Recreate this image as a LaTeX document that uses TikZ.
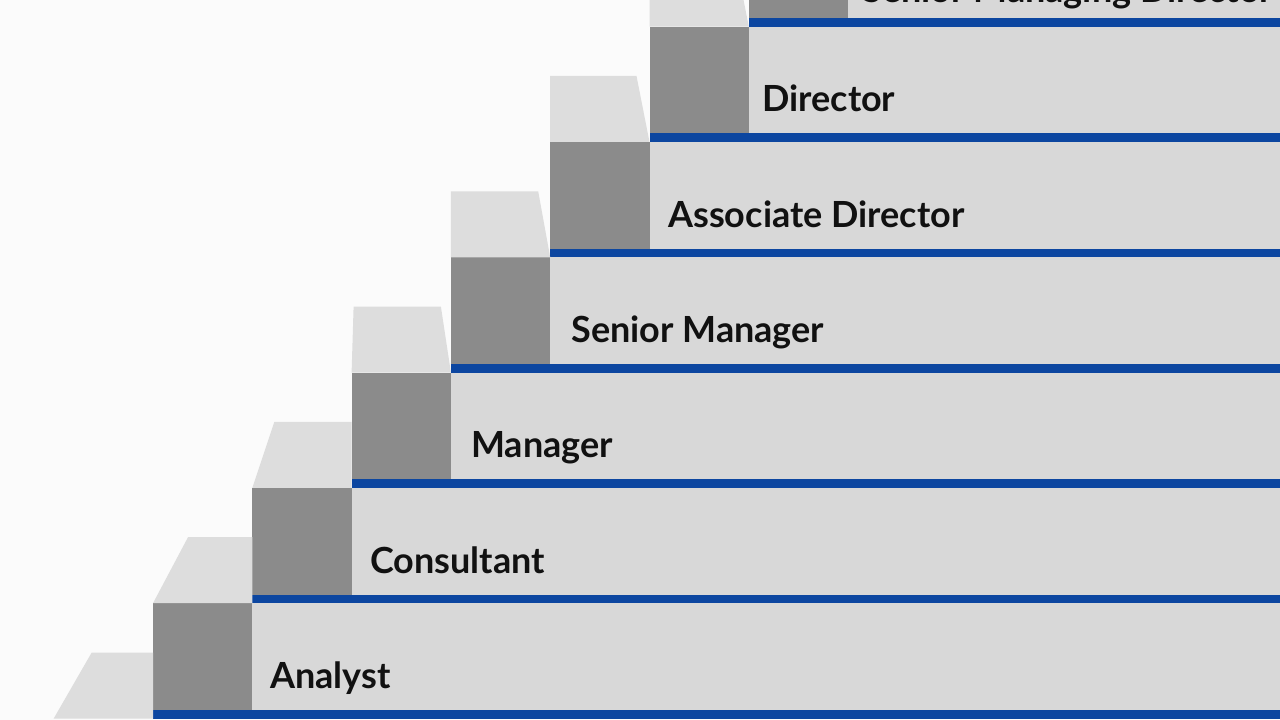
\documentclass[tikz,border=0pt]{standalone}
\usepackage{fontspec}
\setmainfont{Lato}
\definecolor{bgc}{HTML}{FBFBFB}
\definecolor{bandc}{HTML}{D8D8D8}
\definecolor{facec}{HTML}{DDDDDD}
\definecolor{riserc}{HTML}{8B8B8B}
\definecolor{bluec}{RGB}{12,70,160}
\definecolor{textc}{HTML}{111111}
\tikzset{
  band/.style={fill=bandc},
  riser/.style={fill=riserc},
  blueline/.style={fill=bluec},
  face/.style={fill=facec},
  label/.style={anchor=base west, inner sep=0pt, text=textc, font=\fontsize{27}{30}\selectfont\bfseries}
}
\begin{document}
\begin{tikzpicture}[x=0.75pt,y=-0.75pt]
\useasboundingbox (0,0) rectangle (1280,720);
\clip (0,0) rectangle (1280,720);
\fill[bgc] (0,0) rectangle (1280,720);
% bands, risers, blue lines
\foreach \k in {0,...,6} {
  \pgfmathsetmacro\xl{153+99.3*\k}
  \pgfmathsetmacro\xr{\xl+99.3}
  \pgfmathsetmacro\yb{718.5-115.3*\k}
  \pgfmathsetmacro\yt{\yb-115.3}
  \fill[band] (\xr,\yt) rectangle (1280,\yb-8);
  \fill[riser] (\xl,\yt) rectangle (\xr,\yb-8);
  \fill[blueline] (\xl,\yb-8.5) rectangle (1290,\yb);
}
% top faces
\foreach \k/\L/\R in {-1/38/0, 0/35/0, 1/22/0, 2/2/10, 3/0/12, 4/0/13, 5/0/13} {
  \pgfmathsetmacro\xl{153+99.3*\k}
  \pgfmathsetmacro\xr{\xl+99.3}
  \pgfmathsetmacro\yb{718.5-115.3*(\k+1)}
  \pgfmathsetmacro\yt{\yb-66}
  \fill[face] (\xl,\yb) -- (\xr,\yb) -- (\xr-\R,\yt) -- (\xl+\L,\yt) -- cycle;
}
% labels
\node[label] (analyst)   at (270,688.5) {Analyst};
\node[label] (consult)   at (370,573.2) {Consultant};
\node[label] (manager)   at (471,457.9) {Manager};
\node[label] (srmanager) at (571,342.6) {Senior Manager};
\node[label] (assocdir)  at (668,227.3) {Associate Director};
\node[label] (director)  at (762,112.0) {Director};
\node[label] (smd)       at (862,2.5) {Senior Managing Director};
\end{tikzpicture}
\end{document}
